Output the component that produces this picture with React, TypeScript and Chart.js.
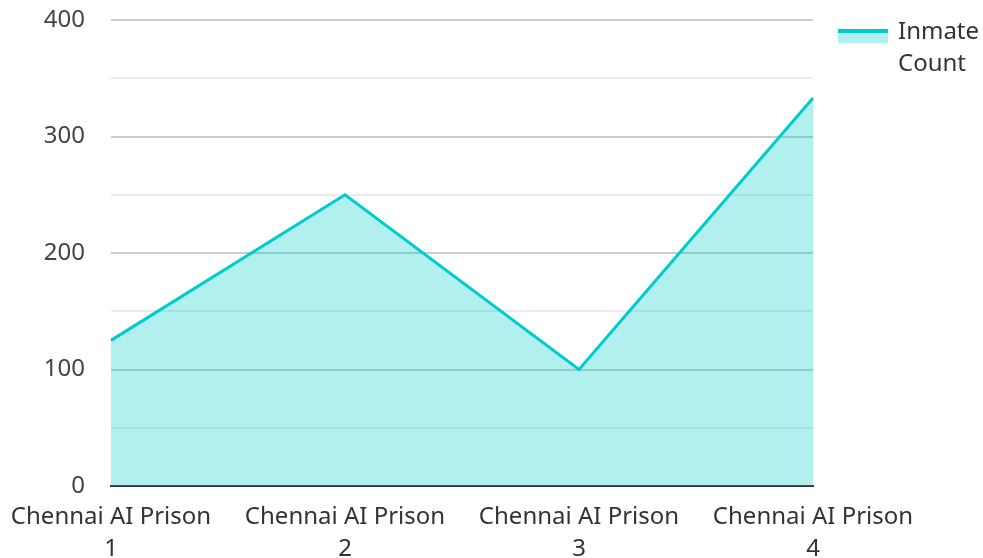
import React, { useEffect, useRef } from "react";
import { Chart, registerables } from "chart.js";

Chart.register(...registerables);

const categories: string[][] = [
  ["Chennai AI Prison", "1"],
  ["Chennai AI Prison", "2"],
  ["Chennai AI Prison", "3"],
  ["Chennai AI Prison", "4"],
];
const inmateCount: number[] = [125, 250, 100, 333];
const seriesLabel = "Inmate Count";
const yMin = 0;
const yMax = 400;
const yStep = 50;
const yLabelStep = 100;

const LINE = "#00cccc";
const FILL = "rgba(0,204,204,0.3)";
const FONT = "'Noto Sans', 'Open Sans', sans-serif";

export default function App() {
  const ref = useRef<HTMLCanvasElement | null>(null);

  useEffect(() => {
    document.body.style.margin = "0";
    const canvas = ref.current;
    if (!canvas) return;
    const chart = new Chart(canvas, {
      type: "line",
      data: {
        labels: categories,
        datasets: [
          {
            label: seriesLabel,
            data: inmateCount,
            borderColor: LINE,
            backgroundColor: FILL,
            borderWidth: 3,
            fill: "origin",
            tension: 0,
            pointRadius: 0,
            pointHoverRadius: 0,
          },
        ],
      },
      options: {
        animation: false,
        responsive: false,
        devicePixelRatio: 1,
        layout: { padding: { top: 20, right: 170, left: 0, bottom: 0 } },
        plugins: {
          legend: { display: false },
          tooltip: { enabled: false },
        },
        scales: {
          x: {
            offset: false,
            grid: { display: false, drawTicks: false },
            border: { display: true, color: "#333333", width: 2 },
            ticks: {
              color: "#333333",
              font: { family: FONT, size: 24, lineHeight: 1.3 },
              padding: 16,
              maxRotation: 0,
              autoSkip: false,
            },
            afterFit: (s: any) => {
              s.height = 72;
              s.paddingLeft = 0;
              s.paddingRight = 0;
              s.paddingTop = 0;
              s.paddingBottom = 0;
            },
          },
          y: {
            min: yMin,
            max: yMax,
            border: { display: false },
            grid: {
              drawTicks: false,
              lineWidth: 2,
              color: (ctx: any) => {
                const v = ctx.tick ? ctx.tick.value : 0;
                if (v === 0) return "rgba(0,0,0,0)";
                return v % yLabelStep === 0 ? "#cccccc" : "#ebebeb";
              },
            },
            ticks: {
              stepSize: yStep,
              color: "#444444",
              padding: 26,
              font: { family: FONT, size: 24 },
              callback: (v: any) => (Number(v) % yLabelStep === 0 ? String(v) : ""),
            },
            afterFit: (s: any) => {
              s.width = 111;
              s.paddingLeft = 0;
              s.paddingRight = 0;
              s.paddingTop = 0;
              s.paddingBottom = 0;
            },
          },
        },
      },
    });
    return () => chart.destroy();
  }, []);

  return (
    <div style={{ position: "relative", width: 983, height: 558 }}>
      <canvas ref={ref} width={983} height={558} style={{ display: "block" }} />
      <div
        style={{
          position: "absolute",
          left: 838,
          top: 14,
          display: "flex",
          alignItems: "flex-start",
          fontFamily: FONT,
          fontSize: 24,
          lineHeight: "32px",
          color: "#333333",
        }}
      >
        <div style={{ width: 50, marginTop: 15, display: "flex", flexDirection: "column" }}>
          <div style={{ height: 4, background: LINE }} />
          <div style={{ height: 10, background: FILL }} />
        </div>
        <div style={{ marginLeft: 10, width: 90 }}>
          Inmate
          <br />
          Count
        </div>
      </div>
    </div>
  );
}
